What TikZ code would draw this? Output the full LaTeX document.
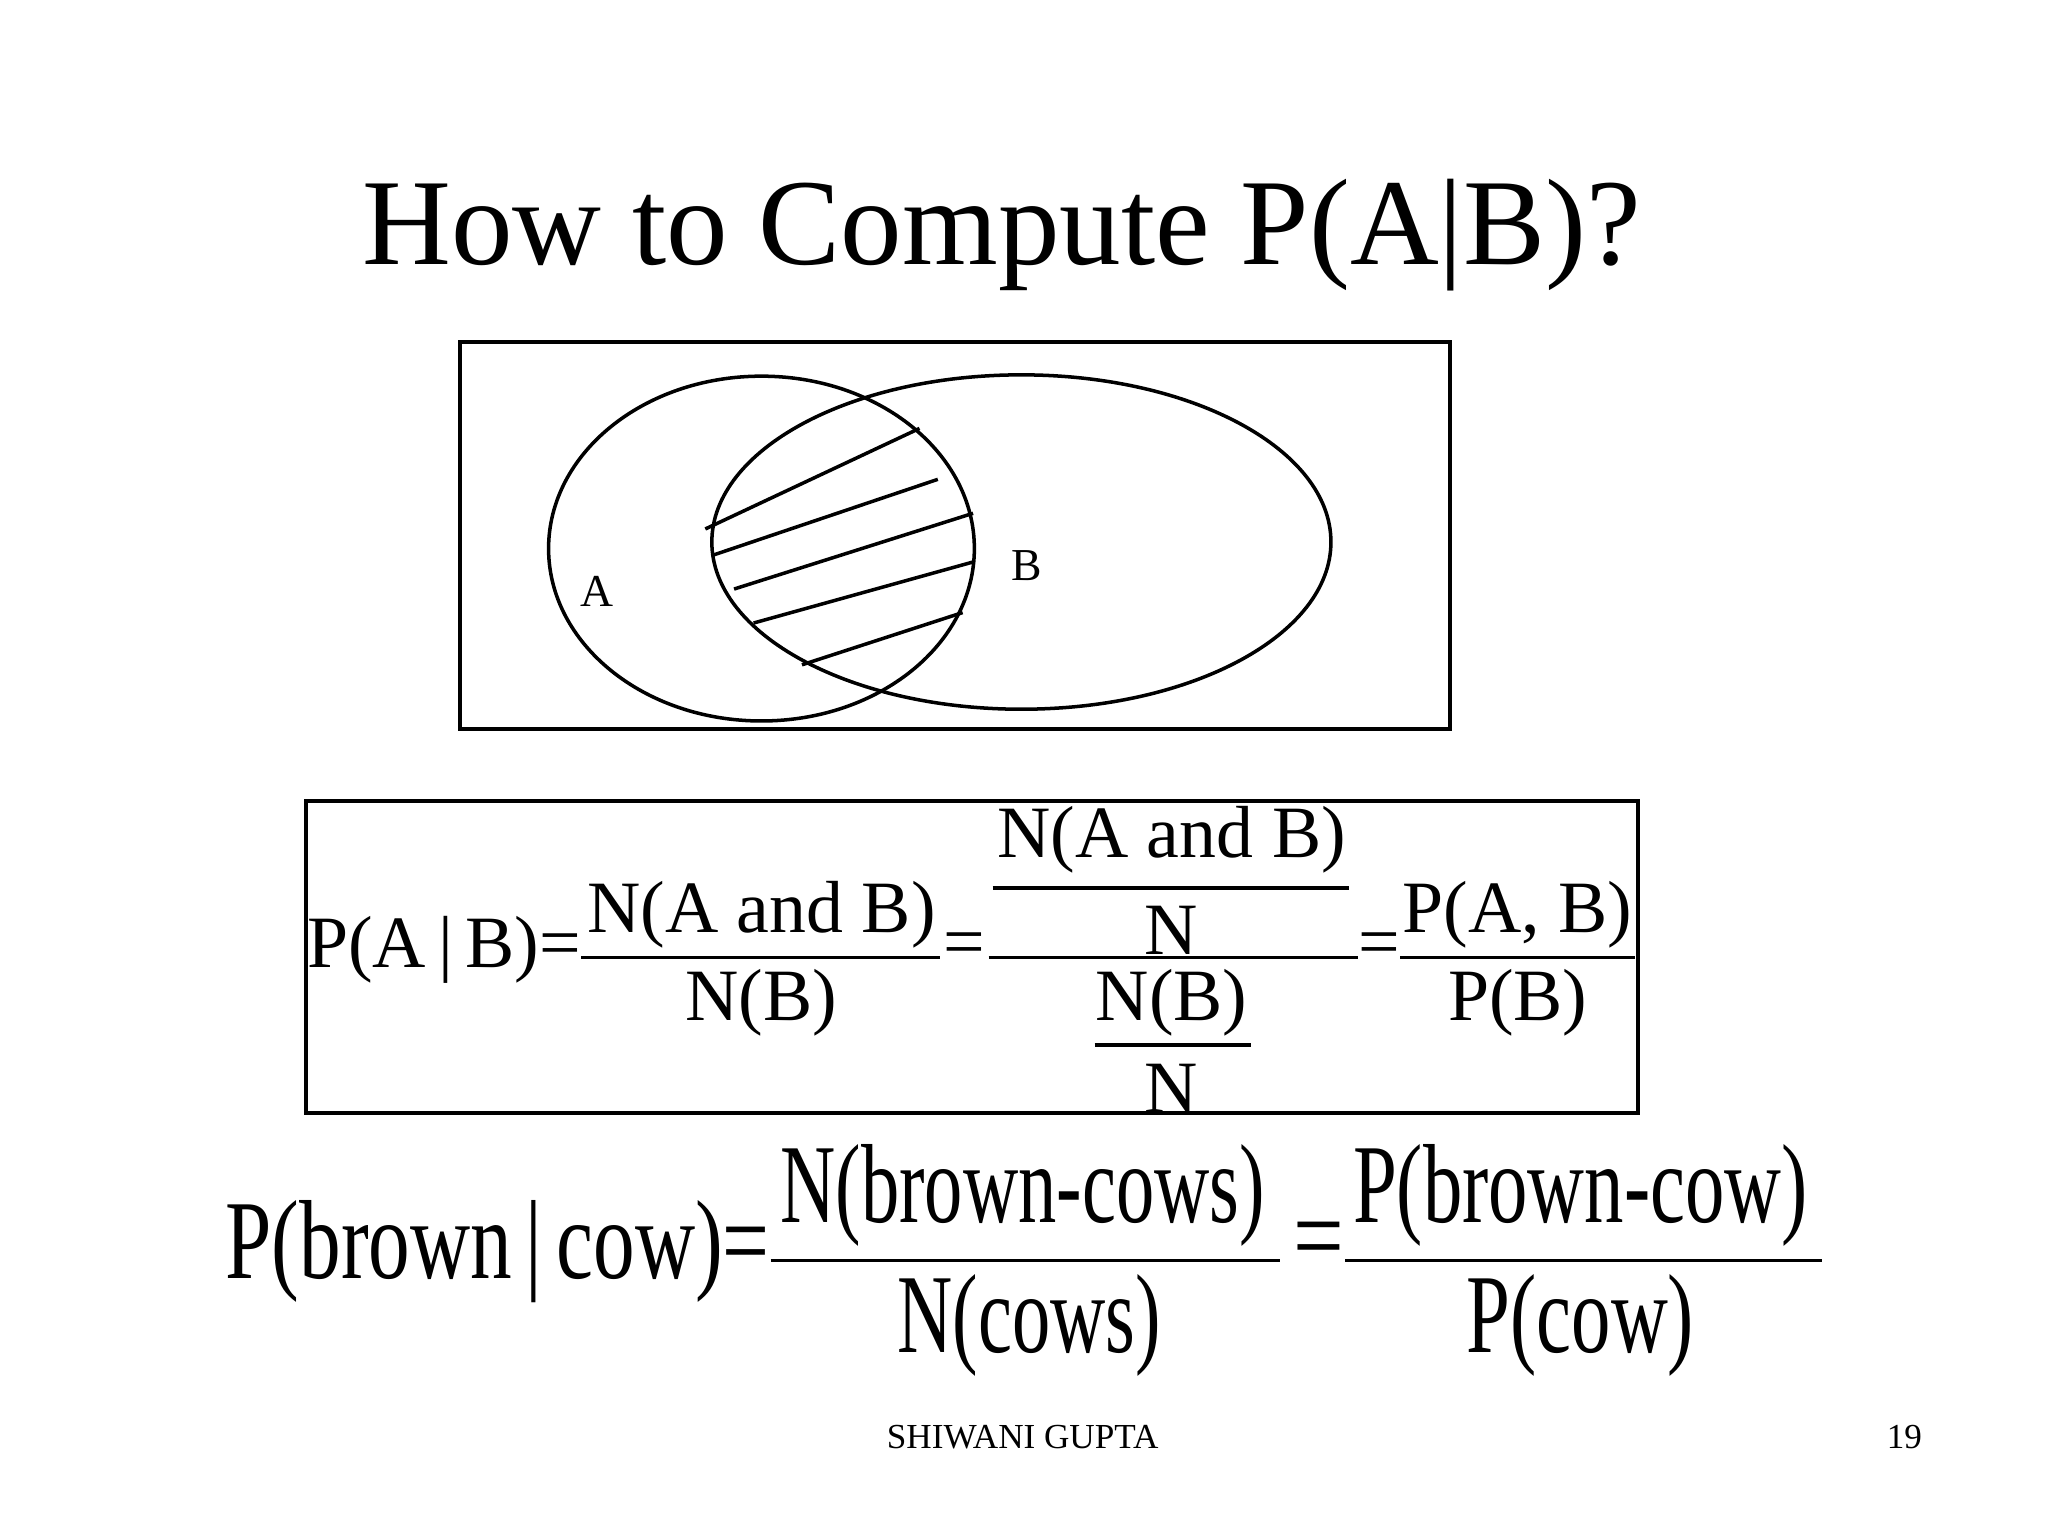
\documentclass[tikz,border=0pt]{standalone}
\usepackage{fontspec}
\usepackage{graphicx}
\setmainfont{Liberation Serif}
\begin{document}
\begin{tikzpicture}[x=0.01306cm,y=-0.01306cm,
  frm/.style={draw,line width=1.1pt},
  ln/.style={line width=1pt},
  fr/.style={font=\fontsize{21}{24}\selectfont,inner sep=0pt},
  cw/.style={font=\fontsize{32}{36}\selectfont,inner sep=0pt}]
\useasboundingbox (0,0) rectangle (1568,1176);
\node (title) at (767,180) {\fontsize{35}{40}\selectfont How to Compute P(A|B)?};
\draw[frm] (352,262) rectangle (1110,558);
\draw[ln] (583,420) ellipse [x radius=163,y radius=132];
\draw[ln] (782,415) ellipse [x radius=237,y radius=128];
\foreach \a/\b/\c/\d in {540/405/704/328,546/425/718/367,562/451/745/393,577/477/746/430,614/509/737/469}
  \draw[ln] (\a,\b) -- (\c,\d);
\node (la) at (457,453) {\fontsize{13}{15}\selectfont A};
\node (lb) at (786,433) {\fontsize{13}{15}\selectfont B};
\draw[frm] (234,613) rectangle (1254,852);
\node[fr] (p) at (340,727) {P(A\,|\,B)=};
\draw[ln] (445,733) -- (720,733);
\node[fr] at (583,700) {N(A and B)};
\node[fr] at (583,768) {N(B)};
\node[fr] at (738,727) {=};
\draw[ln] (757,733) -- (1040,733);
\node[fr] at (897,643) {N(A and B)};
\draw[ln] (760,680) -- (1033,680);
\node[fr] at (897,712) {N};
\node[fr] at (897,768) {N(B)};
\draw[ln] (838,800) -- (958,800);
\node[fr] at (897,833) {N};
\node[fr] at (1056,727) {=};
\draw[ln] (1072,733) -- (1252,733);
\node[fr] at (1162,700) {P(A, B)};
\node[fr] at (1162,768) {P(B)};
\node[cw,anchor=east] at (590,958) {\scalebox{0.74}[1]{P(brown\,|\,cow)=}};
\draw[ln] (590,965) -- (980,965);
\node[cw] at (783,915) {\scalebox{0.68}[1]{N(brown-cows)}};
\node[cw] at (788,1015) {\scalebox{0.68}[1]{N(cows)}};
\node[cw] at (1010,955) {\scalebox{0.8}[1]{=}};
\draw[ln] (1030,965) -- (1395,965);
\node[cw] at (1210,915) {\scalebox{0.7}[1]{P(brown-cow)}};
\node[cw] at (1210,1015) {\scalebox{0.7}[1]{P(cow)}};
\node (f1) at (783,1100) {\fontsize{10}{12}\selectfont SHIWANI GUPTA};
\node (f2) at (1458,1100) {\fontsize{10}{12}\selectfont 19};
\end{tikzpicture}
\end{document}
